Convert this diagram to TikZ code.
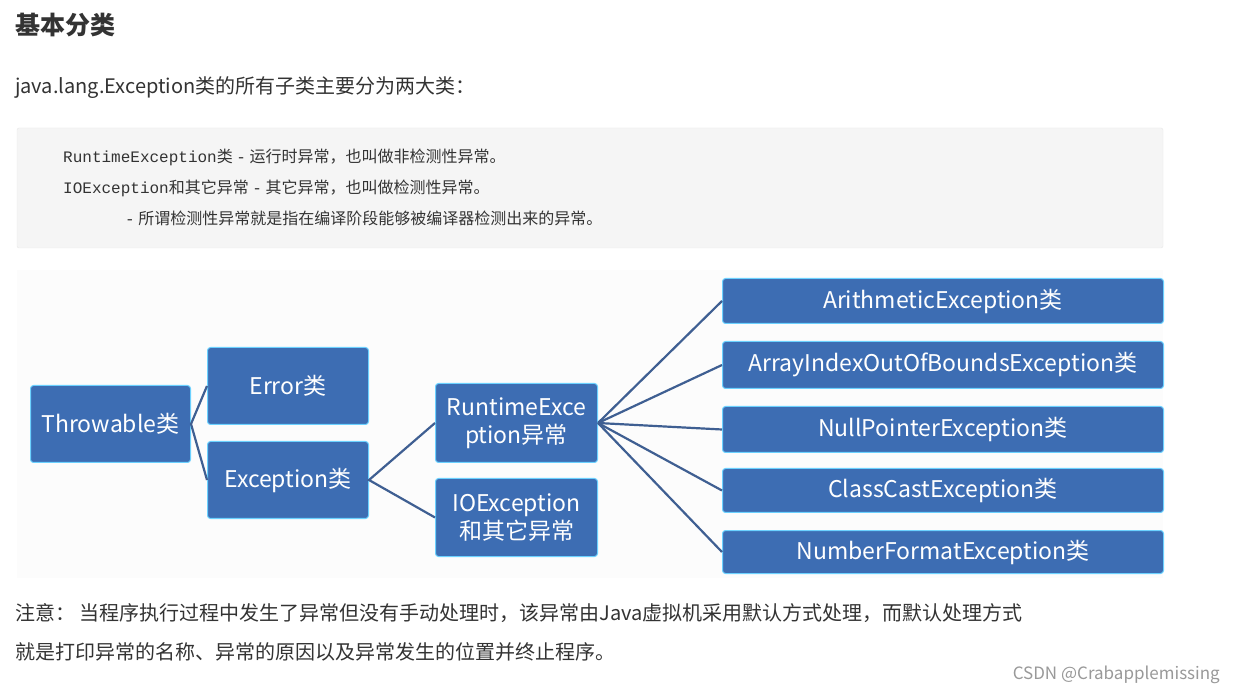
\documentclass[tikz,border=0pt]{standalone}
\usepackage{fontspec}
\setmainfont{Noto Sans CJK SC}
\newfontfamily\cjk{Noto Sans CJK SC}
\newfontfamily\cmono{Liberation Mono}
\begin{document}
\begin{tikzpicture}[x=1pt,y=-1pt,
  bx/.style={draw=white!70!blue!60!cyan,line width=1pt,fill=blueA,rounded corners=3pt,text=white,font=\fontsize{23}{28}\selectfont,inner sep=0pt,anchor=north west,align=center},
  ln/.style={draw=lineA,line width=2.2pt},
  body/.style={anchor=base west,inner sep=0pt,text=textA,font=\fontsize{20}{24}\selectfont}]
\definecolor{blueA}{HTML}{3D6DB3}
\definecolor{lineA}{HTML}{3F5F92}
\definecolor{textA}{HTML}{333333}
\useasboundingbox (0,0) rectangle (1235,692);
\fill[white] (0,0) rectangle (1235,692);
\node[anchor=base west,inner sep=0pt,text=textA,font=\fontsize{25}{30}\selectfont\bfseries] (title) at (15,35) {基本分类};
\node[body] (intro) at (15,94) {java.lang.Exception类的所有子类主要分为两大类：};
\draw[fill=gray!8,draw=gray!18,rounded corners=2pt] (17,128) rectangle (1163,248);
\node[anchor=base west,inner sep=0pt,text=textA,font=\fontsize{16}{20}\selectfont] (c1) at (63,163) {{\cmono RuntimeException}类 {\cmono -} 运行时异常，也叫做非检测性异常。};
\node[anchor=base west,inner sep=0pt,text=textA,font=\fontsize{16}{20}\selectfont] (c2) at (63,194) {{\cmono IOException}和其它异常 {\cmono -} 其它异常，也叫做检测性异常。};
\node[anchor=base west,inner sep=0pt,text=textA,font=\fontsize{16}{20}\selectfont] (c3) at (125,225) {{\cmono -} 所谓检测性异常就是指在编译阶段能够被编译器检测出来的异常。};
\fill[gray!2] (17,270) rectangle (1163,578);
% boxes
\node[bx,minimum width=160pt,minimum height=77pt] (thr) at (30,385) {Throwable类};
\node[bx,minimum width=161pt,minimum height=77pt] (err) at (207,347) {Error类};
\node[bx,minimum width=161pt,minimum height=77pt] (exc) at (207,441) {Exception类};
\node[bx,minimum width=162pt,minimum height=79pt,text width=162pt] (rt) at (435,383) {RuntimeExce\\ption异常};
\node[bx,minimum width=162pt,minimum height=78pt,text width=162pt] (io) at (435,478) {IOException\\和其它异常};
\node[bx,minimum width=441pt,minimum height=45pt] (a1) at (722,278) {ArithmeticException类};
\node[bx,minimum width=441pt,minimum height=47pt] (a2) at (722,341) {ArrayIndexOutOfBoundsException类};
\node[bx,minimum width=441pt,minimum height=46pt] (a3) at (722,406) {NullPointerException类};
\node[bx,minimum width=441pt,minimum height=44pt] (a4) at (722,468) {ClassCastException类};
\node[bx,minimum width=441pt,minimum height=43pt] (a5) at (722,530) {NumberFormatException类};
% connectors
\draw[ln] (err.west) -- (thr.east) -- (exc.west);
\draw[ln] (rt.west) -- (exc.east) -- (io.west);
\foreach \n in {a1,a2,a3,a4,a5}{\draw[ln] (rt.east) -- (\n.west);}
\node[body] (n1) at (15,620) {注意：\ 当程序执行过程中发生了异常但没有手动处理时，该异常由Java虚拟机采用默认方式处理，而默认处理方式};
\node[body] (n2) at (15,659) {就是打印异常的名称、异常的原因以及异常发生的位置并终止程序。};
\node[anchor=base east,inner sep=0pt,text=gray!80,font=\fontsize{17}{20}\selectfont] (wm) at (1220,679) {CSDN @Crabapplemissing};
\end{tikzpicture}
\end{document}
